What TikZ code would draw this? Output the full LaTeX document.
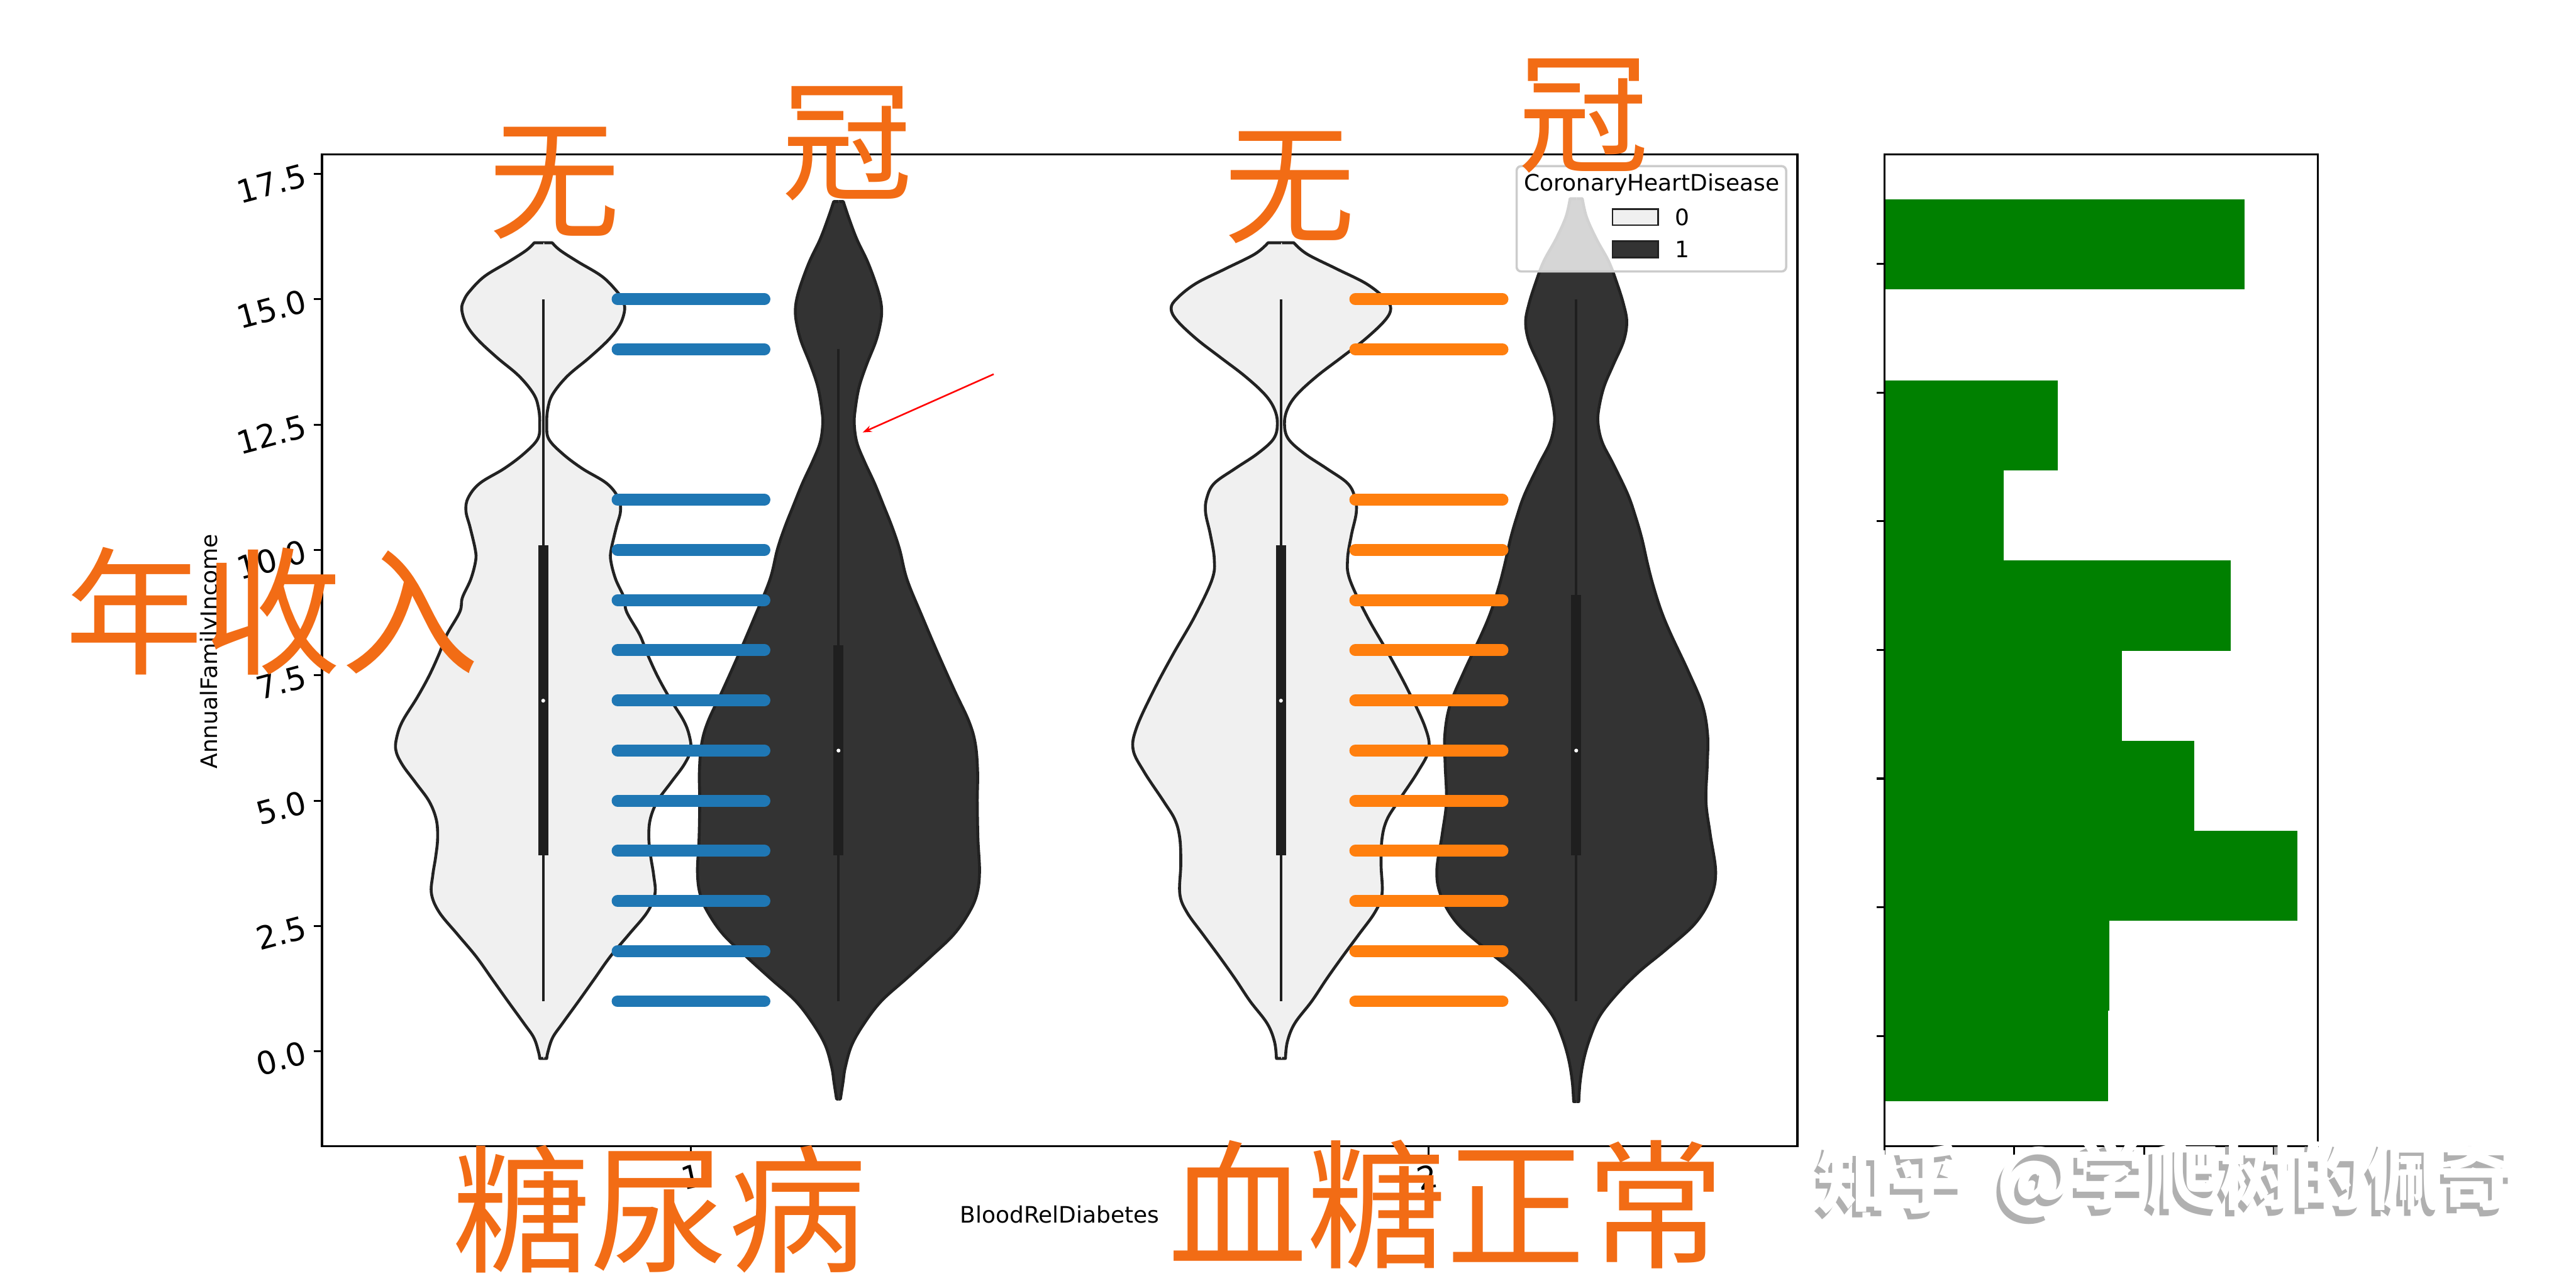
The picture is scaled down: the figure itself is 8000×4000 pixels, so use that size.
\documentclass[tikz,border=0pt]{standalone}
\usepackage{fontspec}
\setmainfont{DejaVu Sans}
\newfontfamily\cjk{Noto Sans CJK SC}
\usetikzlibrary{arrows.meta}
\definecolor{orangetxt}{HTML}{F26C15}
\definecolor{mplblue}{HTML}{1F77B4}
\definecolor{mplorange}{HTML}{FF7F0E}
\definecolor{lightviol}{HTML}{F0F0F0}
\definecolor{darkviol}{HTML}{333333}
\definecolor{viollin}{HTML}{222222}
\definecolor{boxcol}{HTML}{1F1F1F}
\definecolor{barcol}{HTML}{008000}
\definecolor{wmgray}{HTML}{B0B0B0}
\newcommand{\violin}[5]{% cx, fill, ytop, ybot, right half points (hw,y)
  \foreach \sgn in {1,-1}{%
    \begin{scope}[shift={(#1,0)},xscale=\sgn]
      \fill[#2] (-3,#3) -- plot[smooth,tension=0.6] coordinates {#5} -- (-3,#4) -- cycle;
      \draw[viol] (0,#3) -- plot[smooth,tension=0.6] coordinates {#5} -- (0,#4);
    \end{scope}}}
\newcommand{\whisk}[5]{% cx, top, bottom, box top, median y
  \draw[whisk] (#1,#2) -- (#1,#3);
  \fill[boxcol] ({#1-16},#4) rectangle ({#1+16},2657);
  \fill[white] (#1,#5) circle (6);}
\tikzset{
  axln/.style={line width=0.06cm,black},
  viol/.style={line width=0.09cm,viollin,line join=round},
  whisk/.style={line width=0.085cm,boxcol},
  rung/.style={line width=0.37cm,line cap=round},
  bigcjk/.style={inner sep=0,text=orangetxt,font=\cjk\fontsize{116}{120}\selectfont},
  widecjk/.style={inner sep=0,text=orangetxt,font=\cjk\fontsize{122}{126}\selectfont},
  ticklab/.style={inner sep=0,font=\fontsize{28}{30}\selectfont},
  axlab/.style={inner sep=0,font=\fontsize{20}{22}\selectfont},
  wm/.style={inner sep=0,font=\cjk\bfseries\fontsize{65}{70}\selectfont},
}
\begin{document}
\begin{tikzpicture}[x=0.01cm,y=-0.01cm]
\useasboundingbox (0,0) rectangle (8000,4000);
\fill[white] (0,0) rectangle (8000,4000);

% violins
\violin{1687}{lightviol}{754}{3287}{(28,754)(52,777)(106,812)(182,858)(228,904)(246,932)(253,961)(239,1007)(205,1053)(144,1110)(75,1168)(29,1225)(14,1271)(11,1317)(17,1363)(60,1409)(121,1455)(197,1501)(233,1546)(240,1587)(227,1638)(211,1707)(210,1742)(225,1799)(251,1856)(259,1900)(300,1972)(323,2030)(354,2098)(392,2167)(435,2236)(453,2282)(458,2328)(438,2374)(396,2431)(354,2489)(332,2546)(328,2604)(334,2661)(343,2718)(347,2776)(323,2833)(266,2902)(208,2971)(159,3040)(110,3109)(60,3178)(29,3223)(14,3269)(11,3287)}
\violin{2604}{darkviol}{626}{3413}{(15,626)(31,674)(57,743)(90,812)(116,881)(130,930)(134,967)(130,1005)(116,1060)(87,1133)(64,1202)(52,1271)(49,1317)(57,1374)(80,1432)(112,1501)(140,1570)(167,1638)(190,1707)(213,1800)(260,1915)(309,2030)(360,2144)(405,2240)(425,2310)(432,2397)(431,2489)(433,2604)(438,2707)(430,2776)(406,2833)(358,2902)(286,2971)(210,3040)(133,3109)(80,3178)(41,3246)(21,3315)(14,3361)(6,3413)}
\violin{3978}{lightviol}{754}{3287}{(40,754)(81,789)(173,835)(265,881)(323,927)(341,958)(323,995)(262,1053)(188,1110)(112,1168)(50,1225)(20,1271)(11,1317)(23,1363)(73,1409)(142,1455)(207,1501)(230,1546)(234,1592)(219,1661)(207,1736)(214,1800)(268,1915)(334,2030)(395,2144)(448,2259)(459,2328)(425,2397)(364,2489)(329,2546)(314,2604)(311,2684)(314,2776)(292,2833)(242,2902)(191,2971)(142,3040)(96,3109)(43,3178)(20,3235)(14,3287)}
\violin{4895}{darkviol}{617}{3421}{(19,617)(32,674)(63,743)(101,812)(127,881)(147,945)(157,1000)(147,1060)(115,1133)(86,1202)(70,1271)(68,1317)(81,1374)(116,1443)(160,1535)(184,1604)(204,1673)(222,1753)(240,1822)(265,1900)(295,1972)(349,2087)(392,2190)(408,2282)(407,2374)(403,2489)(416,2590)(433,2707)(418,2787)(369,2868)(280,2948)(196,3017)(127,3086)(73,3155)(43,3223)(23,3292)(12,3361)(8,3421)}

% whiskers and boxes
\whisk{1687}{930}{3109}{1693}{2176}
\whisk{2604}{1083}{3109}{2004}{2331}
\whisk{3978}{930}{3109}{1693}{2176}
\whisk{4895}{930}{3109}{1848}{2331}

% rungs
\foreach \i in {1,...,11,14,15}{
  \draw[rung,mplblue] (1918,{3265-155.7*\i}) -- (2374,{3265-155.7*\i});
  \draw[rung,mplorange] (4209,{3265-155.7*\i}) -- (4666,{3265-155.7*\i});
}

% main axes
\draw[axln] (1000,480) rectangle (5582,3559);
\foreach \i/\t in {0/0.0,1/2.5,2/5.0,3/7.5,4/10.0,5/12.5,6/15.0,7/17.5}{
  \draw[axln] (974,{3265-389.25*\i}) -- (1000,{3265-389.25*\i});
  \node[ticklab,rotate=15,anchor=east] (ytl\i) at (950,{3265-389.25*\i+2}) {\t};
}
\draw[axln] (2146,3559) -- (2146,3585);
\draw[axln] (4437,3559) -- (4437,3585);
\node[ticklab,rotate=12] (xtlone) at (2147,3655) {1};
\node[ticklab,rotate=12] (xtltwo) at (4433,3655) {2};
\node[axlab] (xlab) at (3291,3772) {BloodRelDiabetes};
\node[axlab,rotate=90] (ylab) at (655,2023) {AnnualFamilyIncome};

% legend
\draw[draw=black!20,line width=0.07cm,fill=white,fill opacity=0.8,rounded corners=0.14cm] (4710,516) rectangle (5547,843);
\node[axlab] (legtitle) at (5129,573) {CoronaryHeartDisease};
\draw[line width=0.05cm,viollin,fill=lightviol] (5008,649) rectangle (5149,699);
\draw[line width=0.05cm,viollin,fill=darkviol] (5008,749) rectangle (5149,800);
\node[axlab] (legzero) at (5225,674) {0};
\node[axlab] (legone) at (5225,774) {1};

% red arrow
\coordinate (arrowstart) at (3086,1162);
\coordinate (arrowend) at (2679,1343);
\draw[red,line width=0.05cm,-{Stealth[length=0.28cm,width=0.2cm]}] (arrowstart) -- (arrowend);

% right axes
\foreach \a/\b/\r in {620/898/6971,1181/1461/6391,1461/1741/6222,1741/2021/6928,2021/2301/6590,2301/2581/6815,2581/2859/7135,2859/3139/6550,3139/3419/6547}{
  \fill[barcol] (5852,\a) rectangle (\r,\b);
}
\draw[axln] (5852,480) rectangle (7199,3559);
\foreach \y in {820,1220,1619,2019,2418,2818,3217}{
  \draw[axln] (5828,\y) -- (5852,\y);
}
\foreach \x in {5852,6254,6659,7062}{
  \draw[axln] (\x,3559) -- (\x,3585);
}

% watermark
\node[wm,text=wmgray] (wma) at (5860,3680) {知乎};
\node[wm,text=wmgray,anchor=east] (wmb) at (7799,3680) {@学爬树的佩奇};
\node[wm,text=white] (wmashadow) at (5872,3662) {知乎};
\node[wm,text=white,anchor=east] (wmbshadow) at (7811,3662) {@学爬树的佩奇};

% orange labels
\node[bigcjk] (wu) at (1722,568) {无};
\node[bigcjk] (guan) at (2630,445) {冠};
\node[bigcjk] (wub) at (4005,583) {无};
\node[bigcjk] (guanb) at (4918,360) {冠};
\node[widecjk] (income) at (846,1898) {年收入};
\node[widecjk] (dm) at (2048,3755) {糖尿病};
\node[widecjk,font=\cjk\fontsize{123}{126}\selectfont] (normal) at (4492,3740) {血糖正常};
\end{tikzpicture}
\end{document}
